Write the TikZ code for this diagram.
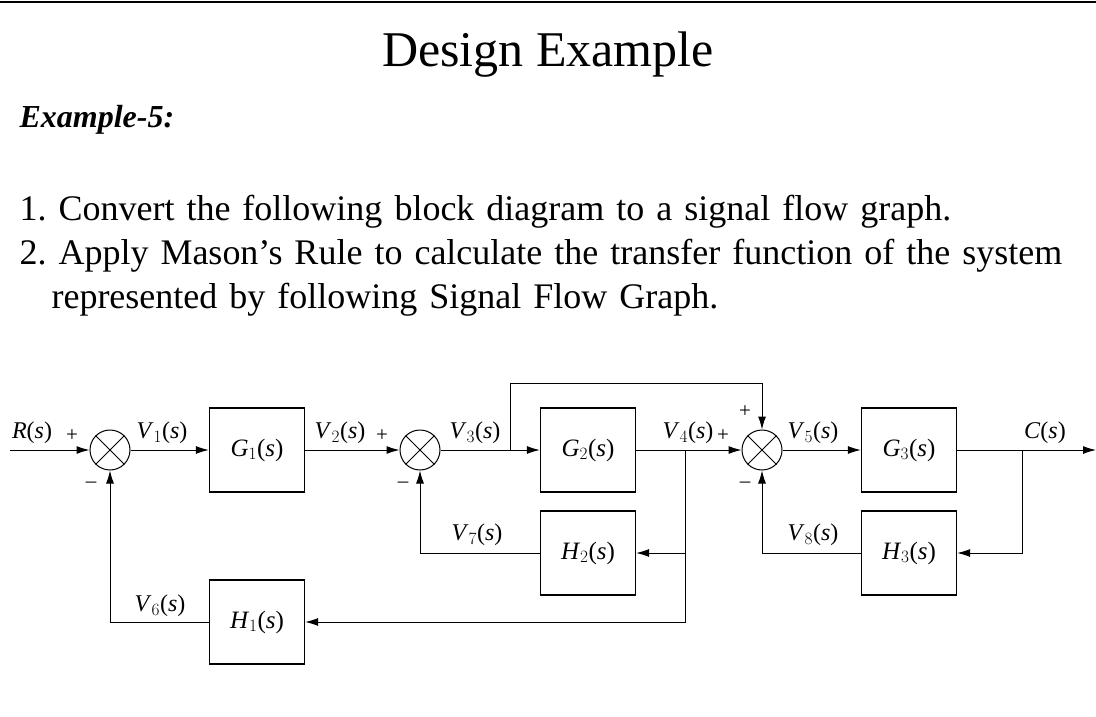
\documentclass[tikz,border=0pt]{standalone}
\usepackage{fontspec}
\setmainfont{Liberation Serif}
\usetikzlibrary{arrows.meta}
\newcommand{\lbl}[2]{\textit{#1}$_{#2}$(\textit{s})}
\begin{document}
\begin{tikzpicture}[x=1pt,y=-1pt,
  blk/.style={draw,line width=1.3pt,minimum width=95pt,minimum height=84pt,font=\fontsize{25}{25}\selectfont},
  sum/.style={draw,circle,line width=1pt,minimum size=40pt,inner sep=0pt},
  lab/.style={font=\fontsize{24}{24}\selectfont,inner sep=1pt},
  sg/.style={font=\fontsize{21}{21}\selectfont,inner sep=0pt},
  w/.style={line width=1pt},
  a/.style={w,-{Latex[length=13pt,width=8pt]}}]
\useasboundingbox (0,0) rectangle (1096,717);
\draw[line width=1.5pt] (0,2) -- (1096,2);
\node[font=\fontsize{50}{50}\selectfont] (title) at (548,55) {Design Example};
\node[anchor=west,font=\fontsize{32}{32}\selectfont\bfseries\itshape] (ex) at (16,120) {Example-5:};
\node[anchor=north west,align=left,font=\fontsize{36}{44}\selectfont,text width=1080pt] (txt) at (16,192)
 {1.\ Convert the following block diagram to a signal flow graph.\\
  2.\ Apply Mason’s Rule to calculate the transfer function of the system\\
  \hspace*{32pt}represented by following Signal Flow Graph.};
% nodes
\coordinate (in) at (10,450);
\node[sum] (s1) at (110,450) {};
\node[blk] (g1) at (257,450) {\lbl{G}{1}};
\node[sum] (s2) at (420,450) {};
\node[blk] (g2) at (588,450) {\lbl{G}{2}};
\node[sum] (s3) at (762,450) {};
\node[blk] (g3) at (909,450) {\lbl{G}{3}};
\node[blk] (h2) at (588,553) {\lbl{H}{2}};
\node[blk] (h3) at (909,553) {\lbl{H}{3}};
\node[blk] (h1) at (257,622) {\lbl{H}{1}};
\coordinate (out) at (1096,450);
\coordinate (b3) at (510,450);
\coordinate (b4) at (685,450);
\coordinate (bc) at (1022,450);
\foreach \s in {s1,s2,s3}{
 \draw[w] (\s.north west) -- (\s.south east);
 \draw[w] (\s.north east) -- (\s.south west);}
% forward
\draw[a] (in) -- (s1);
\draw[a] (s1) -- (g1);
\draw[a] (g1) -- (s2);
\draw[a] (s2) -- (g2);
\draw[w] (g2) -- (b4);
\draw[a] (b4) -- (s3);
\draw[a] (s3) -- (g3);
\draw[a] (g3) -- (out);
% feedforward
\draw[a] (b3) |- (762,383) -- (s3);
% feedbacks
\draw[a] (b4) |- (h2);
\draw[a] (b4) |- (h1);
\draw[a] (h2) -| (s2);
\draw[a] (bc) |- (h3);
\draw[a] (h3) -| (s3);
\draw[a] (h1) -| (s1);
% labels
\node[lab] (lr) at (32,433) {\textit{R}(\textit{s})};
\node[lab] (l1) at (162,433) {\lbl{V}{1}};
\node[lab] (l2) at (340,433) {\lbl{V}{2}};
\node[lab] (l3) at (475,433) {\lbl{V}{3}};
\node[lab] (l4) at (688,433) {\lbl{V}{4}};
\node[lab] (l5) at (813,433) {\lbl{V}{5}};
\node[lab] (lc) at (1045,433) {\textit{C}(\textit{s})};
\node[lab] (l7) at (477,535) {\lbl{V}{7}};
\node[lab] (l8) at (813,535) {\lbl{V}{8}};
\node[lab] (l6) at (160,606) {\lbl{V}{6}};
\node[sg] (p1) at (72,436) {+};
\node[sg] (p2) at (382,436) {+};
\node[sg] (p3) at (723,436) {+};
\node[sg] (p4) at (745,412) {+};
\node[sg] (m1) at (91,485) {--};
\node[sg] (m2) at (403,485) {--};
\node[sg] (m3) at (745,485) {--};
\end{tikzpicture}
\end{document}
